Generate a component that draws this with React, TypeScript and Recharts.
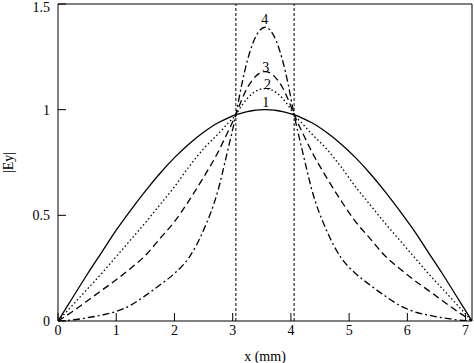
import React from 'react';
import { LineChart, Line, XAxis, YAxis, ReferenceLine, ReferenceDot } from 'recharts';

const xValues = [
  0, 0.25, 0.5, 0.75, 1, 1.25, 1.5, 1.75, 2, 2.25, 2.5, 2.75, 2.9, 3.055,
  3.155, 3.255, 3.355, 3.455, 3.555, 3.655, 3.755, 3.855, 3.955, 4.055,
  4.21, 4.36, 4.61, 4.86, 5.11, 5.36, 5.61, 5.86, 6.11, 6.36, 6.61, 6.86, 7.11,
];

const curve1 = [
  0, 0.11, 0.22, 0.325, 0.43, 0.525, 0.615, 0.698, 0.773, 0.838, 0.893, 0.938, 0.958, 0.976,
  0.984, 0.991, 0.996, 0.999, 1.0, 0.999, 0.996, 0.991, 0.984, 0.976,
  0.958, 0.938, 0.893, 0.838, 0.773, 0.698, 0.615, 0.525, 0.43, 0.325, 0.22, 0.11, 0,
];

const curve2 = [
  0, 0.075, 0.15, 0.225, 0.305, 0.385, 0.465, 0.55, 0.635, 0.73, 0.815, 0.885, 0.93, 0.976,
  1.019, 1.054, 1.08, 1.095, 1.1, 1.095, 1.08, 1.054, 1.019, 0.976,
  0.93, 0.885, 0.815, 0.73, 0.635, 0.55, 0.465, 0.385, 0.305, 0.225, 0.15, 0.075, 0,
];

const curve3 = [
  0, 0.045, 0.095, 0.145, 0.195, 0.25, 0.31, 0.39, 0.47, 0.57, 0.68, 0.8, 0.885, 0.976,
  1.047, 1.105, 1.146, 1.172, 1.18, 1.172, 1.146, 1.105, 1.047, 0.976,
  0.885, 0.8, 0.68, 0.57, 0.47, 0.39, 0.31, 0.25, 0.195, 0.145, 0.095, 0.045, 0,
];

const curve4 = [
  0, 0.005, 0.015, 0.028, 0.045, 0.075, 0.12, 0.17, 0.225, 0.3, 0.43, 0.62, 0.79, 0.976,
  1.118, 1.235, 1.32, 1.372, 1.39, 1.372, 1.32, 1.235, 1.118, 0.976,
  0.79, 0.62, 0.43, 0.3, 0.225, 0.17, 0.12, 0.075, 0.045, 0.028, 0.015, 0.005, 0,
];

const xTicks = [0, 1, 2, 3, 4, 5, 6, 7];
const yTicks = [0, 0.5, 1, 1.5];
const guideLines = [3.055, 4.055];

const labelNames = ['1', '2', '3', '4'];
const labelX = [3.57, 3.6, 3.57, 3.55];
const labelY = [1.036, 1.12, 1.2, 1.43];

const data = xValues.map((x, i) => ({
  x,
  c1: curve1[i],
  c2: curve2[i],
  c3: curve3[i],
  c4: curve4[i],
}));

const FONT = '"Liberation Serif", "Times New Roman", serif';
const tickStyle = { fill: '#000', fontSize: 14, fontFamily: FONT };

const YTick = (props: any) => {
  const { x, y, payload } = props;
  const yy = Math.max(y, 7);
  return (
    <text x={x} y={yy} dy="0.355em" textAnchor="end" fill="#000" fontSize={14} fontFamily={FONT}>
      {String(payload.value)}
    </text>
  );
};

export default function App() {
  return (
    <div style={{ position: 'absolute', left: 0, top: 0, width: 474, height: 363, background: '#fff' }}>
      <LineChart width={474} height={363} data={data} margin={{ top: 3, right: 1, bottom: 0, left: 0 }}>
        <XAxis
          xAxisId="b"
          dataKey="x"
          type="number"
          domain={[0, 7.11]}
          ticks={xTicks}
          interval={0}
          allowDataOverflow
          tickSize={-8}
          tickMargin={12}
          height={42}
          stroke="#000"
          tick={tickStyle}
          tickFormatter={(v: number) => String(v)}
          label={{ value: 'x (mm)', position: 'insideBottom', offset: 2, style: { fill: '#000', fontSize: 14, fontFamily: FONT } }}
        />
        <XAxis
          xAxisId="t"
          orientation="top"
          dataKey="x"
          type="number"
          domain={[0, 7.11]}
          ticks={xTicks}
          interval={0}
          allowDataOverflow
          tickSize={-8}
          height={1}
          stroke="#000"
          tick={false}
        />
        <YAxis
          yAxisId="l"
          type="number"
          domain={[0, 1.5]}
          ticks={yTicks}
          interval={0}
          allowDataOverflow
          tickSize={-8}
          tickMargin={16}
          width={58}
          stroke="#000"
          tick={<YTick />}
          label={{ value: '|Ey|', angle: -90, position: 'insideLeft', offset: 8, style: { textAnchor: 'middle', fill: '#000', fontSize: 14, fontFamily: FONT } }}
        />
        <YAxis
          yAxisId="r"
          orientation="right"
          type="number"
          domain={[0, 1.5]}
          ticks={yTicks}
          interval={0}
          allowDataOverflow
          tickSize={-8}
          width={1}
          stroke="#000"
          tick={false}
        />
        {guideLines.map((gx) => (
          <ReferenceLine key={gx} x={gx} xAxisId="b" yAxisId="l" stroke="#000" strokeWidth={1} strokeDasharray="3 2" />
        ))}
        <Line xAxisId="b" yAxisId="l" type="monotone" dataKey="c1" stroke="#000" strokeWidth={1.3} dot={false} isAnimationActive={false} />
        <Line xAxisId="b" yAxisId="l" type="monotone" dataKey="c2" stroke="#000" strokeWidth={1.3} strokeDasharray="1.5 2.5" dot={false} isAnimationActive={false} />
        <Line xAxisId="b" yAxisId="l" type="monotone" dataKey="c3" stroke="#000" strokeWidth={1.3} strokeDasharray="7 4" dot={false} isAnimationActive={false} />
        <Line xAxisId="b" yAxisId="l" type="monotone" dataKey="c4" stroke="#000" strokeWidth={1.3} strokeDasharray="7 3 2 3" dot={false} isAnimationActive={false} />
        {labelNames.map((name, i) => (
          <ReferenceDot
            key={name}
            xAxisId="b"
            yAxisId="l"
            x={labelX[i]}
            y={labelY[i]}
            r={0}
            fill="none"
            stroke="none"
            label={{ value: name, position: 'center', style: { fill: '#000', fontSize: 14, fontFamily: FONT } }}
          />
        ))}
      </LineChart>
    </div>
  );
}
